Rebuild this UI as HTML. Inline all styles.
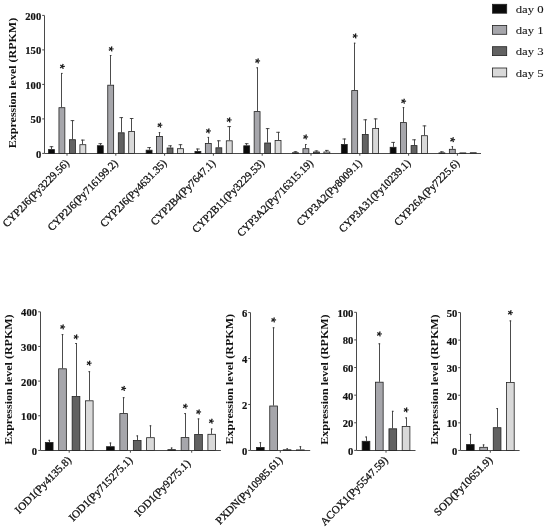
<!DOCTYPE html>
<html><head><meta charset="utf-8"><title>Expression level chart</title>
<style>
html,body{margin:0;padding:0;background:#fff;}
svg{display:block;}
text{font-family:"Liberation Serif", serif;fill:#111;}
.tk{font-size:10.6px;font-weight:bold;text-anchor:end;stroke:#111;stroke-width:0.2px;}
.yt{font-size:11.2px;font-weight:bold;}
.xl{font-size:10.8px;font-weight:normal;text-anchor:end;stroke:#111;stroke-width:0.3px;}
.ast{font-family:"Liberation Sans",sans-serif;font-weight:bold;font-size:13.5px;text-anchor:middle;fill:#1a1a1a;}
.lg{font-size:11.2px;stroke:#222;stroke-width:0.08px;}
</style></head>
<body>
<svg width="550" height="529" viewBox="0 0 550 529">
<rect width="550" height="529" fill="#fff"/>
<path d="M44.5 15.6V153.5H481" fill="none" stroke="#4a4a4a" stroke-width="1"/>
<line x1="42.2" y1="153.4" x2="44.5" y2="153.4" stroke="#4a4a4a" stroke-width="1"/>
<text x="41.2" y="157.8" class="tk">0</text>
<line x1="42.2" y1="118.9" x2="44.5" y2="118.9" stroke="#4a4a4a" stroke-width="1"/>
<text x="41.2" y="123.3" class="tk">50</text>
<line x1="42.2" y1="84.4" x2="44.5" y2="84.4" stroke="#4a4a4a" stroke-width="1"/>
<text x="41.2" y="88.8" class="tk">100</text>
<line x1="42.2" y1="49.9" x2="44.5" y2="49.9" stroke="#4a4a4a" stroke-width="1"/>
<text x="41.2" y="54.3" class="tk">150</text>
<line x1="42.2" y1="15.4" x2="44.5" y2="15.4" stroke="#4a4a4a" stroke-width="1"/>
<text x="41.2" y="19.8" class="tk">200</text>
<line x1="67" y1="153.5" x2="67" y2="155.7" stroke="#4a4a4a" stroke-width="1"/>
<line x1="115.8" y1="153.5" x2="115.8" y2="155.7" stroke="#4a4a4a" stroke-width="1"/>
<line x1="164.6" y1="153.5" x2="164.6" y2="155.7" stroke="#4a4a4a" stroke-width="1"/>
<line x1="213.4" y1="153.5" x2="213.4" y2="155.7" stroke="#4a4a4a" stroke-width="1"/>
<line x1="262.2" y1="153.5" x2="262.2" y2="155.7" stroke="#4a4a4a" stroke-width="1"/>
<line x1="311" y1="153.5" x2="311" y2="155.7" stroke="#4a4a4a" stroke-width="1"/>
<line x1="359.8" y1="153.5" x2="359.8" y2="155.7" stroke="#4a4a4a" stroke-width="1"/>
<line x1="408.6" y1="153.5" x2="408.6" y2="155.7" stroke="#4a4a4a" stroke-width="1"/>
<line x1="457.4" y1="153.5" x2="457.4" y2="155.7" stroke="#4a4a4a" stroke-width="1"/>
<line x1="51.5" y1="149.2" x2="51.5" y2="146.3" stroke="#383838" stroke-width="0.9"/>
<line x1="49.7" y1="146.7" x2="53.3" y2="146.7" stroke="#383838" stroke-width="0.9"/>
<line x1="61.5" y1="107.3" x2="61.5" y2="73" stroke="#383838" stroke-width="0.9"/>
<line x1="61.1" y1="73.4" x2="62.7" y2="73.4" stroke="#383838" stroke-width="0.9"/>
<line x1="72.5" y1="139.3" x2="72.5" y2="120.2" stroke="#383838" stroke-width="0.9"/>
<line x1="70.65" y1="120.6" x2="74.25" y2="120.6" stroke="#383838" stroke-width="0.9"/>
<line x1="82.5" y1="144.3" x2="82.5" y2="139.7" stroke="#383838" stroke-width="0.9"/>
<line x1="81.05" y1="140.1" x2="84.65" y2="140.1" stroke="#383838" stroke-width="0.9"/>
<rect x="48.55" y="149.6" width="5.9" height="3.8" fill="#0a0a0a" stroke="#222222" stroke-width="0.8"/>
<rect x="58.95" y="107.7" width="5.9" height="45.7" fill="#a6a6ab" stroke="#222222" stroke-width="0.8"/>
<rect x="69.5" y="139.7" width="5.9" height="13.7" fill="#626262" stroke="#222222" stroke-width="0.8"/>
<rect x="79.9" y="144.7" width="5.9" height="8.7" fill="#d9d9d9" stroke="#222222" stroke-width="0.8"/>
<line x1="100.5" y1="145.3" x2="100.5" y2="143.3" stroke="#383838" stroke-width="0.9"/>
<line x1="98.5" y1="143.7" x2="102.1" y2="143.7" stroke="#383838" stroke-width="0.9"/>
<line x1="110.5" y1="84.8" x2="110.5" y2="55.1" stroke="#383838" stroke-width="0.9"/>
<line x1="109.9" y1="55.5" x2="111.5" y2="55.5" stroke="#383838" stroke-width="0.9"/>
<line x1="121.5" y1="132.4" x2="121.5" y2="117.2" stroke="#383838" stroke-width="0.9"/>
<line x1="119.45" y1="117.6" x2="123.05" y2="117.6" stroke="#383838" stroke-width="0.9"/>
<line x1="131.5" y1="131.1" x2="131.5" y2="118.1" stroke="#383838" stroke-width="0.9"/>
<line x1="129.85" y1="118.5" x2="133.45" y2="118.5" stroke="#383838" stroke-width="0.9"/>
<rect x="97.35" y="145.7" width="5.9" height="7.7" fill="#0a0a0a" stroke="#222222" stroke-width="0.8"/>
<rect x="107.75" y="85.2" width="5.9" height="68.2" fill="#a6a6ab" stroke="#222222" stroke-width="0.8"/>
<rect x="118.3" y="132.8" width="5.9" height="20.6" fill="#626262" stroke="#222222" stroke-width="0.8"/>
<rect x="128.7" y="131.5" width="5.9" height="21.9" fill="#d9d9d9" stroke="#222222" stroke-width="0.8"/>
<line x1="149.5" y1="149.8" x2="149.5" y2="147.2" stroke="#383838" stroke-width="0.9"/>
<line x1="147.3" y1="147.6" x2="150.9" y2="147.6" stroke="#383838" stroke-width="0.9"/>
<line x1="159.5" y1="136" x2="159.5" y2="132.2" stroke="#383838" stroke-width="0.9"/>
<line x1="158.7" y1="132.6" x2="160.3" y2="132.6" stroke="#383838" stroke-width="0.9"/>
<line x1="170.5" y1="147.6" x2="170.5" y2="145.4" stroke="#383838" stroke-width="0.9"/>
<line x1="168.25" y1="145.8" x2="171.85" y2="145.8" stroke="#383838" stroke-width="0.9"/>
<line x1="180.5" y1="148.3" x2="180.5" y2="144.3" stroke="#383838" stroke-width="0.9"/>
<line x1="178.65" y1="144.7" x2="182.25" y2="144.7" stroke="#383838" stroke-width="0.9"/>
<rect x="146.15" y="150.2" width="5.9" height="3.2" fill="#0a0a0a" stroke="#222222" stroke-width="0.8"/>
<rect x="156.55" y="136.4" width="5.9" height="17" fill="#a6a6ab" stroke="#222222" stroke-width="0.8"/>
<rect x="167.1" y="148" width="5.9" height="5.4" fill="#626262" stroke="#222222" stroke-width="0.8"/>
<rect x="177.5" y="148.7" width="5.9" height="4.7" fill="#d9d9d9" stroke="#222222" stroke-width="0.8"/>
<line x1="197.5" y1="151" x2="197.5" y2="148.6" stroke="#383838" stroke-width="0.9"/>
<line x1="196.1" y1="149" x2="199.7" y2="149" stroke="#383838" stroke-width="0.9"/>
<line x1="208.5" y1="143" x2="208.5" y2="137" stroke="#383838" stroke-width="0.9"/>
<line x1="207.5" y1="137.4" x2="209.1" y2="137.4" stroke="#383838" stroke-width="0.9"/>
<line x1="218.5" y1="147.4" x2="218.5" y2="140.4" stroke="#383838" stroke-width="0.9"/>
<line x1="217.05" y1="140.8" x2="220.65" y2="140.8" stroke="#383838" stroke-width="0.9"/>
<line x1="229.5" y1="140.4" x2="229.5" y2="126.2" stroke="#383838" stroke-width="0.9"/>
<line x1="227.45" y1="126.6" x2="231.05" y2="126.6" stroke="#383838" stroke-width="0.9"/>
<rect x="194.95" y="151.4" width="5.9" height="2" fill="#0a0a0a" stroke="#222222" stroke-width="0.8"/>
<rect x="205.35" y="143.4" width="5.9" height="10" fill="#a6a6ab" stroke="#222222" stroke-width="0.8"/>
<rect x="215.9" y="147.8" width="5.9" height="5.6" fill="#626262" stroke="#222222" stroke-width="0.8"/>
<rect x="226.3" y="140.8" width="5.9" height="12.6" fill="#d9d9d9" stroke="#222222" stroke-width="0.8"/>
<line x1="246.5" y1="145.4" x2="246.5" y2="143.3" stroke="#383838" stroke-width="0.9"/>
<line x1="244.9" y1="143.7" x2="248.5" y2="143.7" stroke="#383838" stroke-width="0.9"/>
<line x1="257.5" y1="111.2" x2="257.5" y2="67.4" stroke="#383838" stroke-width="0.9"/>
<line x1="256.3" y1="67.8" x2="257.9" y2="67.8" stroke="#383838" stroke-width="0.9"/>
<line x1="267.5" y1="142.6" x2="267.5" y2="128.2" stroke="#383838" stroke-width="0.9"/>
<line x1="265.85" y1="128.6" x2="269.45" y2="128.6" stroke="#383838" stroke-width="0.9"/>
<line x1="278.5" y1="140.1" x2="278.5" y2="131.9" stroke="#383838" stroke-width="0.9"/>
<line x1="276.25" y1="132.3" x2="279.85" y2="132.3" stroke="#383838" stroke-width="0.9"/>
<rect x="243.75" y="145.8" width="5.9" height="7.6" fill="#0a0a0a" stroke="#222222" stroke-width="0.8"/>
<rect x="254.15" y="111.6" width="5.9" height="41.8" fill="#a6a6ab" stroke="#222222" stroke-width="0.8"/>
<rect x="264.7" y="143" width="5.9" height="10.4" fill="#626262" stroke="#222222" stroke-width="0.8"/>
<rect x="275.1" y="140.5" width="5.9" height="12.9" fill="#d9d9d9" stroke="#222222" stroke-width="0.8"/>
<line x1="295.5" y1="152.4" x2="295.5" y2="151.3" stroke="#383838" stroke-width="0.9"/>
<line x1="293.7" y1="151.7" x2="297.3" y2="151.7" stroke="#383838" stroke-width="0.9"/>
<line x1="305.5" y1="148.3" x2="305.5" y2="144.1" stroke="#383838" stroke-width="0.9"/>
<line x1="305.1" y1="144.5" x2="306.7" y2="144.5" stroke="#383838" stroke-width="0.9"/>
<line x1="316.5" y1="151.6" x2="316.5" y2="150.5" stroke="#383838" stroke-width="0.9"/>
<line x1="314.65" y1="150.9" x2="318.25" y2="150.9" stroke="#383838" stroke-width="0.9"/>
<line x1="326.5" y1="151.6" x2="326.5" y2="150" stroke="#383838" stroke-width="0.9"/>
<line x1="325.05" y1="150.4" x2="328.65" y2="150.4" stroke="#383838" stroke-width="0.9"/>
<rect x="292.55" y="152.8" width="5.9" height="0.6" fill="#0a0a0a" stroke="#222222" stroke-width="0.8"/>
<rect x="302.95" y="148.7" width="5.9" height="4.7" fill="#a6a6ab" stroke="#222222" stroke-width="0.8"/>
<rect x="313.5" y="152" width="5.9" height="1.4" fill="#626262" stroke="#222222" stroke-width="0.8"/>
<rect x="323.9" y="152" width="5.9" height="1.4" fill="#d9d9d9" stroke="#222222" stroke-width="0.8"/>
<line x1="344.5" y1="144" x2="344.5" y2="138.6" stroke="#383838" stroke-width="0.9"/>
<line x1="342.5" y1="139" x2="346.1" y2="139" stroke="#383838" stroke-width="0.9"/>
<line x1="354.5" y1="90.2" x2="354.5" y2="42.8" stroke="#383838" stroke-width="0.9"/>
<line x1="353.9" y1="43.2" x2="355.5" y2="43.2" stroke="#383838" stroke-width="0.9"/>
<line x1="365.5" y1="134.1" x2="365.5" y2="119.4" stroke="#383838" stroke-width="0.9"/>
<line x1="363.45" y1="119.8" x2="367.05" y2="119.8" stroke="#383838" stroke-width="0.9"/>
<line x1="375.5" y1="128" x2="375.5" y2="118.5" stroke="#383838" stroke-width="0.9"/>
<line x1="373.85" y1="118.9" x2="377.45" y2="118.9" stroke="#383838" stroke-width="0.9"/>
<rect x="341.35" y="144.4" width="5.9" height="9" fill="#0a0a0a" stroke="#222222" stroke-width="0.8"/>
<rect x="351.75" y="90.6" width="5.9" height="62.8" fill="#a6a6ab" stroke="#222222" stroke-width="0.8"/>
<rect x="362.3" y="134.5" width="5.9" height="18.9" fill="#626262" stroke="#222222" stroke-width="0.8"/>
<rect x="372.7" y="128.4" width="5.9" height="25" fill="#d9d9d9" stroke="#222222" stroke-width="0.8"/>
<line x1="393.5" y1="146.9" x2="393.5" y2="142" stroke="#383838" stroke-width="0.9"/>
<line x1="391.3" y1="142.4" x2="394.9" y2="142.4" stroke="#383838" stroke-width="0.9"/>
<line x1="403.5" y1="122.2" x2="403.5" y2="107.2" stroke="#383838" stroke-width="0.9"/>
<line x1="402.7" y1="107.6" x2="404.3" y2="107.6" stroke="#383838" stroke-width="0.9"/>
<line x1="414.5" y1="145.2" x2="414.5" y2="139.4" stroke="#383838" stroke-width="0.9"/>
<line x1="412.25" y1="139.8" x2="415.85" y2="139.8" stroke="#383838" stroke-width="0.9"/>
<line x1="424.5" y1="135.3" x2="424.5" y2="125.5" stroke="#383838" stroke-width="0.9"/>
<line x1="422.65" y1="125.9" x2="426.25" y2="125.9" stroke="#383838" stroke-width="0.9"/>
<rect x="390.15" y="147.3" width="5.9" height="6.1" fill="#0a0a0a" stroke="#222222" stroke-width="0.8"/>
<rect x="400.55" y="122.6" width="5.9" height="30.8" fill="#a6a6ab" stroke="#222222" stroke-width="0.8"/>
<rect x="411.1" y="145.6" width="5.9" height="7.8" fill="#626262" stroke="#222222" stroke-width="0.8"/>
<rect x="421.5" y="135.7" width="5.9" height="17.7" fill="#d9d9d9" stroke="#222222" stroke-width="0.8"/>
<line x1="441.5" y1="152.5" x2="441.5" y2="151.4" stroke="#383838" stroke-width="0.9"/>
<line x1="440.1" y1="151.8" x2="443.7" y2="151.8" stroke="#383838" stroke-width="0.9"/>
<line x1="452.5" y1="148.9" x2="452.5" y2="146.3" stroke="#383838" stroke-width="0.9"/>
<line x1="451.5" y1="146.7" x2="453.1" y2="146.7" stroke="#383838" stroke-width="0.9"/>
<rect x="438.95" y="152.9" width="5.9" height="0.5" fill="#0a0a0a" stroke="#222222" stroke-width="0.8"/>
<rect x="449.35" y="149.3" width="5.9" height="4.1" fill="#a6a6ab" stroke="#222222" stroke-width="0.8"/>
<rect x="459.9" y="152.9" width="5.9" height="0.5" fill="#626262" stroke="#222222" stroke-width="0.8"/>
<rect x="470.3" y="152.7" width="5.9" height="0.7" fill="#d9d9d9" stroke="#222222" stroke-width="0.8"/>
<text transform="translate(15.8,148.2) rotate(-90)" class="yt" textLength="130.4" lengthAdjust="spacingAndGlyphs">Expression level (RPKM)</text>
<text transform="translate(69.7,163.6) rotate(-45.6)" class="xl">CYP2J6(Py3229.56)</text>
<text transform="translate(118.5,163.6) rotate(-45.6)" class="xl">CYP2J6(Py716199.2)</text>
<text transform="translate(167.3,163.6) rotate(-45.6)" class="xl">CYP2J6(Py4631.35)</text>
<text transform="translate(216.1,163.6) rotate(-45.6)" class="xl">CYP2B4(Py7647.1)</text>
<text transform="translate(264.9,163.6) rotate(-45.6)" class="xl">CYP2B11(Py3229.53)</text>
<text transform="translate(313.7,163.6) rotate(-45.6)" class="xl" textLength="103.2" lengthAdjust="spacingAndGlyphs">CYP3A2(Py716315.19)</text>
<text transform="translate(362.5,163.6) rotate(-45.6)" class="xl">CYP3A2(Py8009.1)</text>
<text transform="translate(411.3,163.6) rotate(-45.6)" class="xl" textLength="97.2" lengthAdjust="spacingAndGlyphs">CYP3A31(Py10239.1)</text>
<text transform="translate(460.1,163.6) rotate(-45.6)" class="xl">CYP26A(Py7225.6)</text>
<path d="M40.5 311.9V450.5H220.9" fill="none" stroke="#4a4a4a" stroke-width="1"/>
<line x1="38.2" y1="450.4" x2="40.5" y2="450.4" stroke="#4a4a4a" stroke-width="1"/>
<text x="37" y="454.8" class="tk">0</text>
<line x1="38.2" y1="415.75" x2="40.5" y2="415.75" stroke="#4a4a4a" stroke-width="1"/>
<text x="37" y="420.15" class="tk">100</text>
<line x1="38.2" y1="381.1" x2="40.5" y2="381.1" stroke="#4a4a4a" stroke-width="1"/>
<text x="37" y="385.5" class="tk">200</text>
<line x1="38.2" y1="346.45" x2="40.5" y2="346.45" stroke="#4a4a4a" stroke-width="1"/>
<text x="37" y="350.85" class="tk">300</text>
<line x1="38.2" y1="311.8" x2="40.5" y2="311.8" stroke="#4a4a4a" stroke-width="1"/>
<text x="37" y="316.2" class="tk">400</text>
<line x1="69.2" y1="450.5" x2="69.2" y2="452.7" stroke="#4a4a4a" stroke-width="1"/>
<line x1="130.4" y1="450.5" x2="130.4" y2="452.7" stroke="#4a4a4a" stroke-width="1"/>
<line x1="191.7" y1="450.5" x2="191.7" y2="452.7" stroke="#4a4a4a" stroke-width="1"/>
<line x1="49.5" y1="442.1" x2="49.5" y2="439.9" stroke="#383838" stroke-width="0.9"/>
<line x1="48.3" y1="440.3" x2="50.1" y2="440.3" stroke="#383838" stroke-width="0.9"/>
<line x1="62.5" y1="368.4" x2="62.5" y2="334.2" stroke="#383838" stroke-width="0.9"/>
<line x1="61.6" y1="334.6" x2="63.4" y2="334.6" stroke="#383838" stroke-width="0.9"/>
<line x1="76.5" y1="396.1" x2="76.5" y2="343.1" stroke="#383838" stroke-width="0.9"/>
<line x1="75.1" y1="343.5" x2="76.9" y2="343.5" stroke="#383838" stroke-width="0.9"/>
<line x1="89.5" y1="400.4" x2="89.5" y2="371.3" stroke="#383838" stroke-width="0.9"/>
<line x1="88.35" y1="371.7" x2="90.15" y2="371.7" stroke="#383838" stroke-width="0.9"/>
<rect x="45.35" y="442.5" width="7.7" height="7.9" fill="#0a0a0a" stroke="#222222" stroke-width="0.8"/>
<rect x="58.65" y="368.8" width="7.7" height="81.6" fill="#a6a6ab" stroke="#222222" stroke-width="0.8"/>
<rect x="72.15" y="396.5" width="7.7" height="53.9" fill="#626262" stroke="#222222" stroke-width="0.8"/>
<rect x="85.4" y="400.8" width="7.7" height="49.6" fill="#d9d9d9" stroke="#222222" stroke-width="0.8"/>
<line x1="110.5" y1="446.3" x2="110.5" y2="442.6" stroke="#383838" stroke-width="0.9"/>
<line x1="109.5" y1="443" x2="111.3" y2="443" stroke="#383838" stroke-width="0.9"/>
<line x1="123.5" y1="413.2" x2="123.5" y2="397.3" stroke="#383838" stroke-width="0.9"/>
<line x1="122.8" y1="397.7" x2="124.6" y2="397.7" stroke="#383838" stroke-width="0.9"/>
<line x1="137.5" y1="440.1" x2="137.5" y2="435.5" stroke="#383838" stroke-width="0.9"/>
<line x1="136.3" y1="435.9" x2="138.1" y2="435.9" stroke="#383838" stroke-width="0.9"/>
<line x1="150.5" y1="437.3" x2="150.5" y2="425.4" stroke="#383838" stroke-width="0.9"/>
<line x1="149.55" y1="425.8" x2="151.35" y2="425.8" stroke="#383838" stroke-width="0.9"/>
<rect x="106.55" y="446.7" width="7.7" height="3.7" fill="#0a0a0a" stroke="#222222" stroke-width="0.8"/>
<rect x="119.85" y="413.6" width="7.7" height="36.8" fill="#a6a6ab" stroke="#222222" stroke-width="0.8"/>
<rect x="133.35" y="440.5" width="7.7" height="9.9" fill="#626262" stroke="#222222" stroke-width="0.8"/>
<rect x="146.6" y="437.7" width="7.7" height="12.7" fill="#d9d9d9" stroke="#222222" stroke-width="0.8"/>
<line x1="171.5" y1="449.3" x2="171.5" y2="447.6" stroke="#383838" stroke-width="0.9"/>
<line x1="170.8" y1="448" x2="172.6" y2="448" stroke="#383838" stroke-width="0.9"/>
<line x1="185.5" y1="437.2" x2="185.5" y2="413.2" stroke="#383838" stroke-width="0.9"/>
<line x1="184.1" y1="413.6" x2="185.9" y2="413.6" stroke="#383838" stroke-width="0.9"/>
<line x1="198.5" y1="434.1" x2="198.5" y2="418.5" stroke="#383838" stroke-width="0.9"/>
<line x1="197.6" y1="418.9" x2="199.4" y2="418.9" stroke="#383838" stroke-width="0.9"/>
<line x1="211.5" y1="433.9" x2="211.5" y2="428.6" stroke="#383838" stroke-width="0.9"/>
<line x1="210.85" y1="429" x2="212.65" y2="429" stroke="#383838" stroke-width="0.9"/>
<rect x="167.85" y="449.7" width="7.7" height="0.7" fill="#0a0a0a" stroke="#222222" stroke-width="0.8"/>
<rect x="181.15" y="437.6" width="7.7" height="12.8" fill="#a6a6ab" stroke="#222222" stroke-width="0.8"/>
<rect x="194.65" y="434.5" width="7.7" height="15.9" fill="#626262" stroke="#222222" stroke-width="0.8"/>
<rect x="207.9" y="434.3" width="7.7" height="16.1" fill="#d9d9d9" stroke="#222222" stroke-width="0.8"/>
<text transform="translate(11.9,444.8) rotate(-90)" class="yt" textLength="130.4" lengthAdjust="spacingAndGlyphs">Expression level (RPKM)</text>
<text transform="translate(71.9,460.6) rotate(-45.6)" class="xl" textLength="75.1" lengthAdjust="spacingAndGlyphs">IOD1(Py4135.8)</text>
<text transform="translate(133.1,460.6) rotate(-45.6)" class="xl" textLength="85.6" lengthAdjust="spacingAndGlyphs">IOD1(Py715275.1)</text>
<text transform="translate(191.01,463.99) rotate(-45.6)" class="xl" textLength="74.25" lengthAdjust="spacingAndGlyphs">IOD1(Py9275.1)</text>
<path d="M250.5 312.6V450.5H310.2" fill="none" stroke="#4a4a4a" stroke-width="1"/>
<line x1="248.2" y1="450.4" x2="250.5" y2="450.4" stroke="#4a4a4a" stroke-width="1"/>
<text x="247.2" y="454.8" class="tk">0</text>
<line x1="248.2" y1="404.46" x2="250.5" y2="404.46" stroke="#4a4a4a" stroke-width="1"/>
<text x="247.2" y="408.86" class="tk">2</text>
<line x1="248.2" y1="358.52" x2="250.5" y2="358.52" stroke="#4a4a4a" stroke-width="1"/>
<text x="247.2" y="362.92" class="tk">4</text>
<line x1="248.2" y1="312.58" x2="250.5" y2="312.58" stroke="#4a4a4a" stroke-width="1"/>
<text x="247.2" y="316.98" class="tk">6</text>
<line x1="280.3" y1="450.5" x2="280.3" y2="452.7" stroke="#4a4a4a" stroke-width="1"/>
<line x1="260.5" y1="447" x2="260.5" y2="442.3" stroke="#383838" stroke-width="0.9"/>
<line x1="259.4" y1="442.7" x2="261.2" y2="442.7" stroke="#383838" stroke-width="0.9"/>
<line x1="273.5" y1="405.6" x2="273.5" y2="327.4" stroke="#383838" stroke-width="0.9"/>
<line x1="272.7" y1="327.8" x2="274.5" y2="327.8" stroke="#383838" stroke-width="0.9"/>
<line x1="287.5" y1="449.4" x2="287.5" y2="448.4" stroke="#383838" stroke-width="0.9"/>
<line x1="286.2" y1="448.8" x2="288" y2="448.8" stroke="#383838" stroke-width="0.9"/>
<line x1="300.5" y1="449.5" x2="300.5" y2="446.3" stroke="#383838" stroke-width="0.9"/>
<line x1="299.45" y1="446.7" x2="301.25" y2="446.7" stroke="#383838" stroke-width="0.9"/>
<rect x="256.45" y="447.4" width="7.7" height="3" fill="#0a0a0a" stroke="#222222" stroke-width="0.8"/>
<rect x="269.75" y="406" width="7.7" height="44.4" fill="#a6a6ab" stroke="#222222" stroke-width="0.8"/>
<rect x="283.25" y="449.8" width="7.7" height="0.6" fill="#626262" stroke="#222222" stroke-width="0.8"/>
<rect x="296.5" y="449.9" width="7.7" height="0.5" fill="#d9d9d9" stroke="#222222" stroke-width="0.8"/>
<text transform="translate(232.9,444.4) rotate(-90)" class="yt" textLength="130.4" lengthAdjust="spacingAndGlyphs">Expression level (RPKM)</text>
<text transform="translate(283,460.6) rotate(-45.6)" class="xl" textLength="90.1" lengthAdjust="spacingAndGlyphs">PXDN(Py10985.61)</text>
<path d="M356.5 312.3V450.5H415.5" fill="none" stroke="#4a4a4a" stroke-width="1"/>
<line x1="354.2" y1="450.4" x2="356.5" y2="450.4" stroke="#4a4a4a" stroke-width="1"/>
<text x="353.3" y="454.8" class="tk">0</text>
<line x1="354.2" y1="422.78" x2="356.5" y2="422.78" stroke="#4a4a4a" stroke-width="1"/>
<text x="353.3" y="427.18" class="tk">20</text>
<line x1="354.2" y1="395.16" x2="356.5" y2="395.16" stroke="#4a4a4a" stroke-width="1"/>
<text x="353.3" y="399.56" class="tk">40</text>
<line x1="354.2" y1="367.54" x2="356.5" y2="367.54" stroke="#4a4a4a" stroke-width="1"/>
<text x="353.3" y="371.94" class="tk">60</text>
<line x1="354.2" y1="339.92" x2="356.5" y2="339.92" stroke="#4a4a4a" stroke-width="1"/>
<text x="353.3" y="344.32" class="tk">80</text>
<line x1="354.2" y1="312.3" x2="356.5" y2="312.3" stroke="#4a4a4a" stroke-width="1"/>
<text x="353.3" y="316.7" class="tk">100</text>
<line x1="386" y1="450.5" x2="386" y2="452.7" stroke="#4a4a4a" stroke-width="1"/>
<line x1="366.5" y1="440.9" x2="366.5" y2="436.6" stroke="#383838" stroke-width="0.9"/>
<line x1="365.1" y1="437" x2="366.9" y2="437" stroke="#383838" stroke-width="0.9"/>
<line x1="379.5" y1="381.8" x2="379.5" y2="343.4" stroke="#383838" stroke-width="0.9"/>
<line x1="378.4" y1="343.8" x2="380.2" y2="343.8" stroke="#383838" stroke-width="0.9"/>
<line x1="392.5" y1="428.4" x2="392.5" y2="410.9" stroke="#383838" stroke-width="0.9"/>
<line x1="391.9" y1="411.3" x2="393.7" y2="411.3" stroke="#383838" stroke-width="0.9"/>
<line x1="406.5" y1="426" x2="406.5" y2="417.5" stroke="#383838" stroke-width="0.9"/>
<line x1="405.15" y1="417.9" x2="406.95" y2="417.9" stroke="#383838" stroke-width="0.9"/>
<rect x="362.15" y="441.3" width="7.7" height="9.1" fill="#0a0a0a" stroke="#222222" stroke-width="0.8"/>
<rect x="375.45" y="382.2" width="7.7" height="68.2" fill="#a6a6ab" stroke="#222222" stroke-width="0.8"/>
<rect x="388.95" y="428.8" width="7.7" height="21.6" fill="#626262" stroke="#222222" stroke-width="0.8"/>
<rect x="402.2" y="426.4" width="7.7" height="24" fill="#d9d9d9" stroke="#222222" stroke-width="0.8"/>
<text transform="translate(327.9,444.8) rotate(-90)" class="yt" textLength="130.4" lengthAdjust="spacingAndGlyphs">Expression level (RPKM)</text>
<text transform="translate(388.7,460.6) rotate(-45.6)" class="xl" textLength="91.5" lengthAdjust="spacingAndGlyphs">ACOX1(Py5547.59)</text>
<path d="M460.5 312.6V450.5H519.6" fill="none" stroke="#4a4a4a" stroke-width="1"/>
<line x1="458.2" y1="450.4" x2="460.5" y2="450.4" stroke="#4a4a4a" stroke-width="1"/>
<text x="457.3" y="454.8" class="tk">0</text>
<line x1="458.2" y1="422.83" x2="460.5" y2="422.83" stroke="#4a4a4a" stroke-width="1"/>
<text x="457.3" y="427.23" class="tk">10</text>
<line x1="458.2" y1="395.26" x2="460.5" y2="395.26" stroke="#4a4a4a" stroke-width="1"/>
<text x="457.3" y="399.66" class="tk">20</text>
<line x1="458.2" y1="367.69" x2="460.5" y2="367.69" stroke="#4a4a4a" stroke-width="1"/>
<text x="457.3" y="372.09" class="tk">30</text>
<line x1="458.2" y1="340.12" x2="460.5" y2="340.12" stroke="#4a4a4a" stroke-width="1"/>
<text x="457.3" y="344.52" class="tk">40</text>
<line x1="458.2" y1="312.55" x2="460.5" y2="312.55" stroke="#4a4a4a" stroke-width="1"/>
<text x="457.3" y="316.95" class="tk">50</text>
<line x1="490.3" y1="450.5" x2="490.3" y2="452.7" stroke="#4a4a4a" stroke-width="1"/>
<line x1="470.5" y1="444.2" x2="470.5" y2="434" stroke="#383838" stroke-width="0.9"/>
<line x1="469.4" y1="434.4" x2="471.2" y2="434.4" stroke="#383838" stroke-width="0.9"/>
<line x1="483.5" y1="446.9" x2="483.5" y2="444.5" stroke="#383838" stroke-width="0.9"/>
<line x1="482.7" y1="444.9" x2="484.5" y2="444.9" stroke="#383838" stroke-width="0.9"/>
<line x1="497.5" y1="427.3" x2="497.5" y2="408.2" stroke="#383838" stroke-width="0.9"/>
<line x1="496.2" y1="408.6" x2="498" y2="408.6" stroke="#383838" stroke-width="0.9"/>
<line x1="510.5" y1="382.1" x2="510.5" y2="320.5" stroke="#383838" stroke-width="0.9"/>
<line x1="509.45" y1="320.9" x2="511.25" y2="320.9" stroke="#383838" stroke-width="0.9"/>
<rect x="466.45" y="444.6" width="7.7" height="5.8" fill="#0a0a0a" stroke="#222222" stroke-width="0.8"/>
<rect x="479.75" y="447.3" width="7.7" height="3.1" fill="#a6a6ab" stroke="#222222" stroke-width="0.8"/>
<rect x="493.25" y="427.7" width="7.7" height="22.7" fill="#626262" stroke="#222222" stroke-width="0.8"/>
<rect x="506.5" y="382.5" width="7.7" height="67.9" fill="#d9d9d9" stroke="#222222" stroke-width="0.8"/>
<text transform="translate(437.6,444.8) rotate(-90)" class="yt" textLength="130.4" lengthAdjust="spacingAndGlyphs">Expression level (RPKM)</text>
<text transform="translate(493,460.6) rotate(-45.6)" class="xl" textLength="78.1" lengthAdjust="spacingAndGlyphs">SOD(Py10651.9)</text>
<text x="62.4" y="73.25" transform="rotate(18 62.4 66.5)" class="ast">*</text>
<text x="111.1" y="55.6" transform="rotate(18 111.1 48.85)" class="ast">*</text>
<text x="159.8" y="131.85" transform="rotate(18 159.8 125.1)" class="ast">*</text>
<text x="208.3" y="137.55" transform="rotate(18 208.3 130.8)" class="ast">*</text>
<text x="229" y="126.55" transform="rotate(18 229 119.8)" class="ast">*</text>
<text x="257.5" y="67.55" transform="rotate(18 257.5 60.8)" class="ast">*</text>
<text x="305.5" y="143.75" transform="rotate(18 305.5 137)" class="ast">*</text>
<text x="355.1" y="42.75" transform="rotate(18 355.1 36)" class="ast">*</text>
<text x="403.5" y="107.95" transform="rotate(18 403.5 101.2)" class="ast">*</text>
<text x="452.5" y="146.45" transform="rotate(18 452.5 139.7)" class="ast">*</text>
<text x="62.5" y="333.65" transform="rotate(18 62.5 326.9)" class="ast">*</text>
<text x="76.1" y="343.65" transform="rotate(18 76.1 336.9)" class="ast">*</text>
<text x="89.2" y="369.95" transform="rotate(18 89.2 363.2)" class="ast">*</text>
<text x="123.5" y="395.25" transform="rotate(18 123.5 388.5)" class="ast">*</text>
<text x="185.4" y="412.85" transform="rotate(18 185.4 406.1)" class="ast">*</text>
<text x="198.6" y="418.55" transform="rotate(18 198.6 411.8)" class="ast">*</text>
<text x="211.3" y="427.85" transform="rotate(18 211.3 421.1)" class="ast">*</text>
<text x="273.6" y="326.55" transform="rotate(18 273.6 319.8)" class="ast">*</text>
<text x="379.3" y="340.65" transform="rotate(18 379.3 333.9)" class="ast">*</text>
<text x="406.2" y="416.55" transform="rotate(18 406.2 409.8)" class="ast">*</text>
<text x="510.3" y="319.35" transform="rotate(18 510.3 312.6)" class="ast">*</text>
<rect x="492.5" y="4.3" width="14.2" height="8.9" fill="#0a0a0a" stroke="#222222" stroke-width="0.8"/>
<text x="515.7" y="13" class="lg" textLength="27.9" lengthAdjust="spacingAndGlyphs">day 0</text>
<rect x="492.5" y="25.4" width="14.2" height="8.9" fill="#a6a6ab" stroke="#222222" stroke-width="0.8"/>
<text x="515.7" y="34.1" class="lg" textLength="27.9" lengthAdjust="spacingAndGlyphs">day 1</text>
<rect x="492.5" y="46.7" width="14.2" height="8.9" fill="#626262" stroke="#222222" stroke-width="0.8"/>
<text x="515.7" y="55.4" class="lg" textLength="27.9" lengthAdjust="spacingAndGlyphs">day 3</text>
<rect x="492.5" y="68" width="14.2" height="8.9" fill="#d9d9d9" stroke="#222222" stroke-width="0.8"/>
<text x="515.7" y="76.7" class="lg" textLength="27.9" lengthAdjust="spacingAndGlyphs">day 5</text>
</svg>
</body></html>
